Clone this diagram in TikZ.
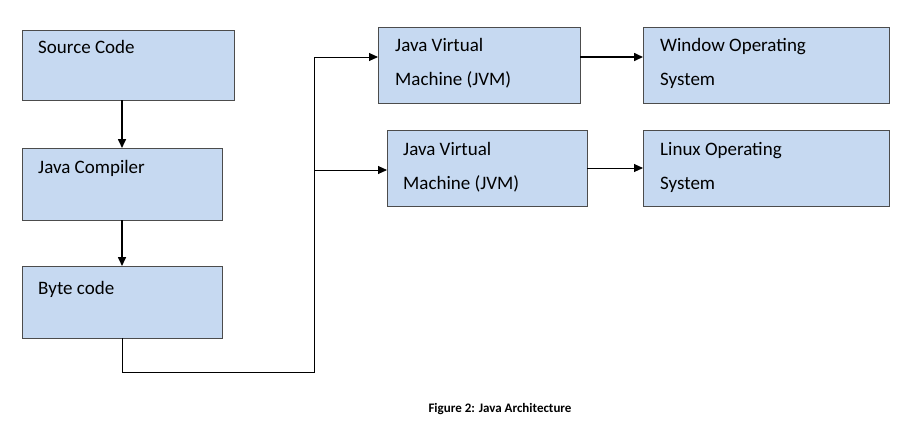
\documentclass[tikz,border=0pt]{standalone}
\usepackage{fontspec}
\setmainfont{Carlito}
\usetikzlibrary{arrows.meta}
\begin{document}
\begin{tikzpicture}[x=1pt,y=-1pt,
 box/.style={draw=black!70,fill={rgb,255:red,198;green,217;blue,241},line width=0.8pt},
 lbl/.style={anchor=north west,align=left,font=\fontsize{19}{34}\selectfont,inner sep=0pt},
 arr/.style={-{Triangle[length=9pt,width=8pt]},line width=1.6pt},
 ln/.style={line width=0.9pt}]
\useasboundingbox (0,0) rectangle (916,437);
\fill[white] (0,0) rectangle (916,437);
\draw[box] (22,30) rectangle (234,100) coordinate (sc);
\draw[box] (22,148) rectangle (222,220);
\draw[box] (22,266) rectangle (222,338);
\draw[box] (378,27) rectangle (580,103);
\draw[box] (387,130) rectangle (587,206);
\draw[box] (643,27) rectangle (889,103);
\draw[box] (643,130) rectangle (889,206);
\node[lbl] (t1) at (38,40) {Source Code};
\node[lbl] (t2) at (38,160) {Java Compiler};
\node[lbl] (t3) at (38,281) {Byte code};
\node[lbl] (t4) at (395,38) {Java Virtual\\Machine (JVM)};
\node[lbl] (t5) at (403,142) {Java Virtual\\Machine (JVM)};
\node[lbl] (t6) at (660,38) {Window Operating\\System};
\node[lbl] (t7) at (660,142) {Linux Operating\\System};
\coordinate (a1) at (122,100); \coordinate (a2) at (122,148);
\coordinate (b1) at (122,220); \coordinate (b2) at (122,266);
\coordinate (c0) at (122,338); \coordinate (c1) at (122,372); \coordinate (c2) at (314,372);
\coordinate (c3) at (314,57); \coordinate (c4) at (378,57);
\coordinate (d1) at (314,170); \coordinate (d2) at (387,170);
\coordinate (e1) at (580,57); \coordinate (e2) at (643,57);
\coordinate (f1) at (587,168); \coordinate (f2) at (643,168);
\draw[arr] (a1) -- (a2);
\draw[arr] (b1) -- (b2);
\draw[ln] (c0) -- (c1) -- (c2) -- (c3);
\draw[arr,line width=0.9pt] (c3) -- (c4);
\draw[arr,line width=0.9pt] (d1) -- (d2);
\draw[arr] (e1) -- (e2);
\draw[arr,line width=0.9pt] (f1) -- (f2);
\node[font=\bfseries\fontsize{13}{15}\selectfont] (cap) at (500,409) {Figure 2: Java Architecture};
\end{tikzpicture}
\end{document}
